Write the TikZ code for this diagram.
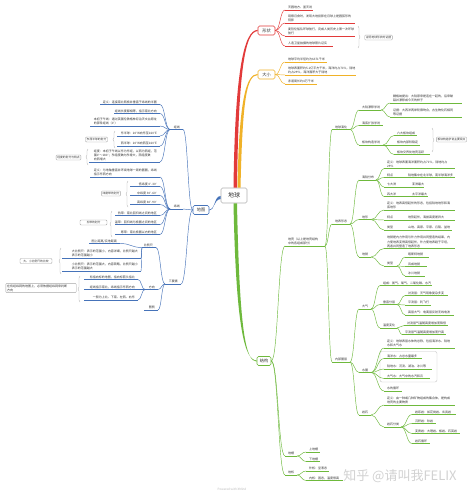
\documentclass[tikz,border=0pt]{standalone}
\usepackage{fontspec}
\setmainfont{Noto Sans CJK SC}
\usetikzlibrary{calc,decorations.pathreplacing}
\definecolor{cR}{RGB}{226,58,58}
\definecolor{cO}{RGB}{240,178,40}
\definecolor{cG}{RGB}{110,185,60}
\definecolor{cB}{RGB}{70,115,185}
\definecolor{cT}{RGB}{50,50,50}
\tikzset{
  tx/.style={font=\fontsize{3}{4.3}\selectfont, inner sep=0pt, align=left, text=cT},
  ul/.style={line width=0.45pt},
  cn/.style={line width=0.45pt},
  mainbox/.style={rounded corners=1.5pt, draw, fill=white, line width=0.6pt,
    font=\fontsize{4.2}{5}\selectfont, minimum width=17pt, minimum height=9pt, inner sep=0pt, text=cT},
  lbl/.style={rounded corners=1pt, draw=gray!70, fill=white, line width=0.4pt,
    font=\fontsize{2.8}{3.6}\selectfont, inner sep=1.2pt, text=cT, align=center},
  br/.style={decorate, decoration={brace, amplitude=2pt}, draw=gray!60, line width=0.4pt}
}
\newcommand\mmR[6]{%
  \coordinate (#1-l) at (#3,#5);
  \coordinate (#1-r) at (#4,#5);
  \draw[#2,ul] (#1-l) -- (#1-r);
  \node[tx,anchor=south west] (#1) at ({#3+3},{#5-0.6}) {#6};
}
\newcommand\mmL[6]{%
  \coordinate (#1-l) at (#3,#5);
  \coordinate (#1-r) at (#4,#5);
  \draw[#2,ul] (#1-l) -- (#1-r);
  \node[tx,anchor=south east] (#1) at ({#4-3},{#5-0.6}) {#6};
}
\newcommand\mmC[3]{%
  \draw[#1,cn] let \p1=(#2), \p2=(#3) in (\p1) .. controls ({(\x1+\x2)/2},\y1) and ({(\x1+\x2)/2},\y2) .. (\p2);
}
\begin{document}
\begin{tikzpicture}[x=1pt,y=-1pt]
\fill[white] (0,0) rectangle (474,495);
\useasboundingbox (0,0) rectangle (474,495);

% ---------- main nodes ----------
\node[mainbox, draw=gray!60, minimum width=26pt, minimum height=15pt, font=\fontsize{6}{6}\selectfont] (earth) at (234,195.5) {地球};
\node[mainbox, draw=cR] (shape) at (266.5,30.5) {形状};
\node[mainbox, draw=cO] (size) at (266.5,74.5) {大小};
\node[mainbox, draw=cG, minimum width=14pt] (struct) at (264,361) {结构};
\node[mainbox, draw=cB, minimum width=16pt] (map) at (201,210) {地图};

% tapered main branches
\fill[cR] ([xshift=-0.5pt]earth.north) .. controls (235,70) and (244,30) .. ([yshift=0.6pt]shape.west)
  -- ([yshift=-0.6pt]shape.west) .. controls (245,31.2) and (238.5,70) .. ([xshift=3pt]earth.north) -- cycle;
\fill[cO] ([xshift=3.5pt]earth.north) .. controls (239,100) and (246,74) .. ([yshift=0.6pt]size.west)
  -- ([yshift=-0.6pt]size.west) .. controls (246.5,75.2) and (242.5,100) .. ([xshift=6.5pt]earth.north) -- cycle;
\fill[cG] ([xshift=-0.5pt]earth.south) .. controls (236,330) and (245,360.6) .. ([yshift=0.6pt]struct.west)
  -- ([yshift=-0.6pt]struct.west) .. controls (245.5,361.6) and (239.5,330) .. ([xshift=3pt]earth.south) -- cycle;
\fill[cB] ([yshift=-0.5pt]earth.west) .. controls (214,196) and (215.5,209.5) .. ([yshift=0.5pt]map.east)
  -- ([yshift=-0.5pt]map.east) .. controls (214.5,210.5) and (213.5,199.5) .. ([yshift=-3.5pt]earth.west) -- cycle;

% ---------- red: shape ----------
\mmR{r1}{cR}{285}{313}{10}{天圆地方、盖天说}
\mmR{r2}{cR}{285}{355}{23}{观察月食时，发现大地投影在月球上是圆弧形的\\阴影}
\mmR{r3}{cR}{285}{355}{36}{麦哲伦船队环球航行，完成人类历史上第一次环球\\航行}
\mmR{r4}{cR}{285}{333}{46}{人造卫星拍摄的地球照片证实}
\mmC{cR}{shape.east}{r1-l}
\mmC{cR}{shape.east}{r2-l}
\mmC{cR}{shape.east}{r3-l}
\mmC{cR}{shape.east}{r4-l}
\draw[br] (358,26) -- (358,48);
\node[lbl] (rlab) at (378.5,37.5) {证明地球形状的证据};

% ---------- orange: size ----------
\mmR{o1}{cO}{285}{327}{62}{地球平均半径约为6371千米}
\mmR{o2}{cO}{285}{356}{75}{地球表面积约5.1亿平方千米，海洋约占71\%，陆地\\约占29\%，海洋面积大于陆地}
\mmR{o3}{cO}{285}{317}{84}{赤道周长约4万千米}
\mmC{cO}{size.east}{o1-l}
\mmC{cO}{size.east}{o2-l}
\mmC{cO}{size.east}{o3-l}

% ---------- green: structure ----------
\mmR{crust}{cG}{285}{325}{246}{地壳（以上是地壳结构\\中的各组成部分）}
\mmR{mantle}{cG}{285}{297}{456}{地幔}
\mmR{core}{cG}{285}{297}{475}{地核}
\mmC{cG}{struct.east}{crust-l}
\mmC{cG}{struct.east}{mantle-l}
\mmC{cG}{struct.east}{core-l}

\mmR{m1}{cG}{306}{320}{452}{上地幔}
\mmR{m2}{cG}{306}{320}{461.5}{下地幔}
\mmC{cG}{mantle-r}{m1-l}
\mmC{cG}{mantle-r}{m2-l}
\mmR{c1}{cG}{306}{329}{471}{外核：呈液态}
\mmR{c2}{cG}{306}{343}{480.5}{内核：固态，温度很高}
\mmC{cG}{core-r}{c1-l}
\mmC{cG}{core-r}{c2-l}

\mmR{evo}{cG}{332}{350}{129.5}{地球演化}
\mmR{surf}{cG}{332}{350}{224}{地表形态}
\mmR{inner}{cG}{332}{350}{362}{内部圈层}
\mmC{cG}{crust-r}{evo-l}
\mmC{cG}{crust-r}{surf-l}
\mmC{cG}{crust-r}{inner-l}

% evolution
\mmR{e1}{cG}{359}{381}{110}{大陆漂移学说}
\mmR{e2}{cG}{359}{383}{125.5}{海底扩张学说}
\mmR{e3}{cG}{359}{383}{145}{板块构造学说}
\mmC{cG}{evo-r}{e1-l}
\mmC{cG}{evo-r}{e2-l}
\mmC{cG}{evo-r}{e3-l}
\mmR{e11}{cG}{390}{462}{103}{魏格纳提出：大陆原来是连在一起的，后来破\\裂并漂移成今天的样子}
\mmR{e12}{cG}{390}{462}{117}{证据：大西洋两岸轮廓吻合，古生物化石相同\\等证据}
\mmC{cG}{e1-r}{e11-l}
\mmC{cG}{e1-r}{e12-l}
\mmR{e31}{cG}{394}{417}{135.5}{六大板块组成}
\mmR{e32}{cG}{394}{420}{145}{板块内部较稳定}
\mmR{e33}{cG}{394}{430}{154.5}{板块交界处地壳活跃}
\mmC{cG}{e3-r}{e31-l}
\mmC{cG}{e3-r}{e32-l}
\mmC{cG}{e3-r}{e33-l}
\draw[br] (432,128) -- (432,152);
\node[lbl] (glab1) at (451.5,139.5) {板块构造学说主要观点};

% surface
\mmR{s1}{cG}{359}{376}{180}{海陆分布}
\mmR{s2}{cG}{359}{371}{219.5}{地形}
\mmR{s3}{cG}{359}{371}{257}{地貌}
\mmC{cG}{surf-r}{s1-l}
\mmC{cG}{surf-r}{s2-l}
\mmC{cG}{surf-r}{s3-l}
\mmR{s11}{cG}{384}{455}{168.5}{定义：地球表面海洋面积约占71\%，陆地约占\\29\%}
\mmR{s12}{cG}{384}{455}{177.5}{\makebox[21pt][l]{特点}陆地集中在北半球，南半球海洋多}
\mmR{s13}{cG}{384}{424}{187}{\makebox[25pt][l]{七大洲}亚洲最大}
\mmR{s14}{cG}{384}{428}{196.5}{\makebox[25pt][l]{四大洋}太平洋最大}
\mmC{cG}{s1-r}{s11-l}
\mmC{cG}{s1-r}{s12-l}
\mmC{cG}{s1-r}{s13-l}
\mmC{cG}{s1-r}{s14-l}
\mmR{s21}{cG}{384}{455}{210}{定义：地表高低起伏的形态，包括陆地地形和海\\底地形}
\mmR{s22}{cG}{384}{455}{220}{\makebox[21pt][l]{特点}地势起伏，海拔高度差异大}
\mmR{s23}{cG}{384}{452}{230}{\makebox[21pt][l]{类型}山地、高原、平原、丘陵、盆地}
\mmC{cG}{s2-r}{s21-l}
\mmC{cG}{s2-r}{s22-l}
\mmC{cG}{s2-r}{s23-l}
\mmR{s31}{cG}{384}{455}{248.5}{地貌是内力作用与外力作用共同塑造的结果，内\\力使地表变得高低起伏，外力使地表趋于平坦，\\两者共同塑造了地表形态}
\mmR{s32}{cG}{384}{397}{266}{类型}
\mmC{cG}{s3-r}{s31-l}
\mmC{cG}{s3-r}{s32-l}
\mmR{s321}{cG}{405}{429}{257}{喀斯特地貌}
\mmR{s322}{cG}{405}{427}{266.5}{风成地貌}
\mmR{s323}{cG}{405}{425}{276}{冰川地貌}
\mmC{cG}{s32-r}{s321-l}
\mmC{cG}{s32-r}{s322-l}
\mmC{cG}{s32-r}{s323-l}

% inner spheres
\mmR{i1}{cG}{359}{371}{309}{大气}
\mmR{i2}{cG}{359}{371}{372.5}{水圈}
\mmR{i3}{cG}{359}{371}{415}{岩石}
\mmC{cG}{inner-r}{i1-l}
\mmC{cG}{inner-r}{i2-l}
\mmC{cG}{inner-r}{i3-l}
\mmR{i11}{cG}{380}{432}{285.5}{组成：氮气、氧气、二氧化碳、水汽}
\mmR{i12}{cG}{380}{397}{304.5}{垂直分层}
\mmR{i13}{cG}{380}{397}{328}{温度变化}
\mmC{cG}{i1-r}{i11-l}
\mmC{cG}{i1-r}{i12-l}
\mmC{cG}{i1-r}{i13-l}
\mmR{i121}{cG}{405}{448}{295.5}{对流层：天气现象复杂多变}
\mmR{i122}{cG}{405}{431}{305}{平流层：利飞行}
\mmR{i123}{cG}{405}{454}{315}{高层大气：电离层反射无线电波}
\mmC{cG}{i12-r}{i121-l}
\mmC{cG}{i12-r}{i122-l}
\mmC{cG}{i12-r}{i123-l}
\mmR{i131}{cG}{404}{448}{325.5}{对流层气温随高度增加而降低}
\mmR{i132}{cG}{402}{446}{334.5}{平流层气温随高度增加而升高}
\mmC{cG}{i13-r}{i131-l}
\mmC{cG}{i13-r}{i132-l}

\draw[gray!45, rounded corners=2pt, line width=0.4pt] (380,351.5) rectangle (437,382);
\mmR{i21}{cG}{384}{455}{348}{定义：地球表层水体的总称，包括海洋水、陆地\\水和大气水}
\mmR{i22}{cG}{384}{422}{358.5}{海洋水：占总水量最多}
\mmR{i23}{cG}{384}{432}{369}{陆地水：河流、湖泊、冰川等}
\mmR{i24}{cG}{384}{430}{378.5}{大气水：大气中的水汽和云}
\mmR{i25}{cG}{384}{402}{391}{水的循环}
\mmC{cG}{i2-r}{i21-l}
\mmC{cG}{i2-r}{i22-l}
\mmC{cG}{i2-r}{i23-l}
\mmC{cG}{i2-r}{i24-l}
\mmC{cG}{i2-r}{i25-l}

\mmR{i31}{cG}{384}{455}{405}{定义：由一种或几种矿物组成的集合体，是构成\\地壳的主要物质}
\mmR{i32}{cG}{384}{401}{427}{岩石分类}
\mmC{cG}{i3-r}{i31-l}
\mmC{cG}{i3-r}{i32-l}
\mmR{i321}{cG}{412}{456}{414.5}{岩浆岩：如花岗岩、玄武岩}
\mmR{i322}{cG}{412}{436}{423.5}{沉积岩：砂岩}
\mmR{i323}{cG}{412}{460}{433.5}{变质岩：大理岩、板岩、石英岩}
\mmR{i324}{cG}{412}{430}{443.5}{岩石循环}
\mmC{cG}{i32-r}{i321-l}
\mmC{cG}{i32-r}{i322-l}
\mmC{cG}{i32-r}{i323-l}
\mmC{cG}{i32-r}{i324-l}

% ---------- blue: map ----------
\mmL{jing}{cB}{170}{183}{129.5}{经线}
\mmL{wei}{cB}{170}{183}{209}{纬线}
\mmL{three}{cB}{165}{181}{284}{三要素}
\mmC{cB}{map.west}{jing-r}
\mmC{cB}{map.west}{wei-r}
\mmC{cB}{map.west}{three-r}

\mmL{j1}{cB}{100}{160}{104.5}{定义：连接南北两极并垂直于纬线的半圆}
\mmL{j2}{cB}{114}{160}{113.5}{经线长度都相等，指示南北方向}
\mmL{j3}{cB}{90}{160}{126}{本初子午线：通过英国伦敦格林尼治天文台原址\\的那条经线（0°）}
\mmL{j4}{cB}{117}{160}{136}{东半球：20°W向东至160°E}
\mmL{j5}{cB}{117}{160}{146}{西半球：20°W向西至160°E}
\mmL{j6}{cB}{89}{160}{162}{经度：本初子午线以东为东经，以西为西经，范\\围0°～180°；东经度数向东增大，西经度数\\向西增大}
\mmC{cB}{jing-l}{j1-r}
\mmC{cB}{jing-l}{j2-r}
\mmC{cB}{jing-l}{j3-r}
\mmC{cB}{jing-l}{j4-r}
\mmC{cB}{jing-l}{j5-r}
\mmC{cB}{jing-l}{j6-r}
\draw[br] (115,148) -- (115,131);
\node[lbl] (blab1) at (96.5,139.5) {东西半球的划分};
\draw[br] (88,165) -- (88,149);
\node[lbl] (blab2) at (68.5,157.5) {经度的划分与特点};

\mmL{w1}{cB}{90}{160}{177}{定义：与地轴垂直并环绕地球一周的圆圈，纬线\\指示东西方向}
\mmL{w2}{cB}{130}{160}{186.5}{低纬度 0°-30°}
\mmL{w3}{cB}{130}{160}{195.5}{中纬度 30°-60°}
\mmL{w4}{cB}{130}{160}{204.5}{高纬度 60°-90°}
\mmL{w5}{cB}{115}{160}{215.5}{热带：南北回归线之间的地区}
\mmL{w6}{cB}{115}{160}{224.5}{温带：回归线与极圈之间的地区}
\mmL{w7}{cB}{115}{160}{234.5}{寒带：南北极圈以内的地区}
\mmC{cB}{wei-l}{w1-r}
\mmC{cB}{wei-l}{w2-r}
\mmC{cB}{wei-l}{w3-r}
\mmC{cB}{wei-l}{w4-r}
\mmC{cB}{wei-l}{w5-r}
\mmC{cB}{wei-l}{w6-r}
\mmC{cB}{wei-l}{w7-r}
\draw[br] (128,207) -- (128,181);
\node[lbl] (blab3) at (111,193.5) {纬度带的划分};
\draw[br] (112,237) -- (112,211);
\node[lbl, minimum width=27pt] (blab4) at (93.5,222.5) {五带的划分};

\mmL{sc}{cB}{142}{156}{247.5}{比例尺}
\mmL{dir}{cB}{145}{158}{289.5}{方向}
\mmL{leg}{cB}{144}{158}{310}{图例}
\mmC{cB}{three-l}{sc-r}
\mmC{cB}{three-l}{dir-r}
\mmC{cB}{three-l}{leg-r}

\mmL{sc1}{cB}{89}{120}{243.5}{图上距离/实地距离}
\mmL{sc2}{cB}{62}{141}{258}{大比例尺：表示的范围小，内容详细，比例尺越大\\表示的范围越小}
\mmL{sc3}{cB}{62}{141}{271}{小比例尺：表示的范围大，内容简略，比例尺越小\\表示的范围越大}
\mmC{cB}{sc-l}{sc1-r}
\mmC{cB}{sc-l}{sc2-r}
\mmC{cB}{sc-l}{sc3-r}
\draw[br] (61,274) -- (61,248);
\node[lbl, minimum width=32pt] (blab5) at (36,261) {大、小比例尺的比较};

\mmL{d1}{cB}{84}{138}{279.5}{有指向标的地图，指向标箭头指北}
\mmL{d2}{cB}{84}{138}{289.5}{经线指示南北，纬线指示东西方向}
\mmL{d3}{cB}{84}{138}{300}{一般为上北、下南、左西、右东}
\mmC{cB}{dir-l}{d1-r}
\mmC{cB}{dir-l}{d2-r}
\mmC{cB}{dir-l}{d3-r}
\draw[br] (80,302) -- (80,276);
\node[lbl, text width=68pt, align=left, font=\fontsize{3}{4.2}\selectfont] (blab6) at (41,288) {在有经纬网的地图上，必须依据经纬网来判断\\方向};

% ---------- footer ----------
\node[font=\fontsize{13}{13}\selectfont, text=gray!35] (wm) at (400,476) {知乎 @请叫我FELIX};
\node[font=\fontsize{3}{3}\selectfont, text=gray!55] (pw) at (232,489) {Powered with XMind};
\end{tikzpicture}
\end{document}
